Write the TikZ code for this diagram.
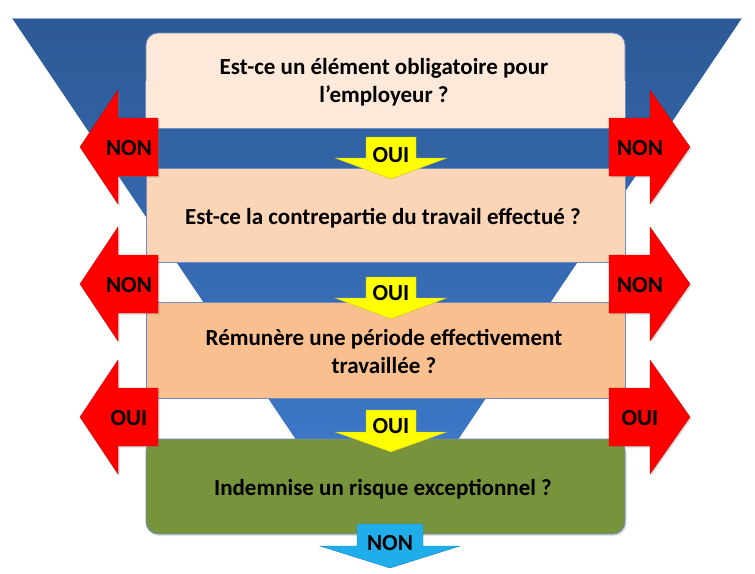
\documentclass[tikz,border=0pt]{standalone}
\usepackage{fontspec}
\setmainfont{Carlito}
\usetikzlibrary{shadows}
\definecolor{funtop}{RGB}{45,90,150}
\definecolor{funbot}{RGB}{64,126,210}
\definecolor{funedge}{RGB}{140,175,220}
\definecolor{boxA}{RGB}{253,233,217}
\definecolor{boxB}{RGB}{251,213,181}
\definecolor{boxC}{RGB}{249,191,143}
\definecolor{boxD}{RGB}{119,147,60}
\definecolor{edgecol}{RGB}{110,140,190}
\definecolor{redA}{RGB}{255,0,0}
\definecolor{yelA}{RGB}{255,255,0}
\definecolor{yelE}{RGB}{190,190,40}
\definecolor{bluA}{RGB}{32,174,234}
\definecolor{bluE}{RGB}{20,130,190}
\begin{document}
\begin{tikzpicture}[x=1pt,y=-1pt,
  lbl/.style={font=\fontsize{23}{28}\selectfont\bfseries, inner sep=0pt, align=center, text=black},
  boxshape/.style={draw=edgecol, line width=0.8pt, inner sep=0pt, minimum width=479pt},
  redarrow/.style={fill=redA, draw=red!75!black, line width=0.3pt,
     drop shadow={opacity=0.3, shadow xshift=1.5pt, shadow yshift=-1.5pt}},
  yelarrow/.style={fill=yelA, draw=yelE, line width=0.4pt},
  bluarrow/.style={fill=bluA, draw=bluE, line width=0.4pt}]
\useasboundingbox (0,0) rectangle (755,573);
% funnel
\shade[top color=funtop, bottom color=funbot] (12,18) -- (742,18) -- (377,560) -- cycle;
\draw[funedge, line width=0.6pt] (12,18) -- (742,18);
% boxes
\node[boxshape, fill=boxA, rounded corners=12pt, minimum height=95pt] (box1) at (385.5,80.5) {};
\fill[boxA] ([xshift=0.5pt]box1.west) rectangle ([xshift=-0.5pt,yshift=0.5pt]box1.south east);
\draw[draw=edgecol, line width=0.8pt] (box1.west) -- (box1.south west) -- (box1.south east) -- (box1.east);
\node[boxshape, fill=boxB, minimum height=94pt] (box2) at (385.5,215) {};
\node[boxshape, fill=boxC, minimum height=96pt] (box3) at (385.5,350) {};
\node[boxshape, fill=boxD, rounded corners=12pt, minimum height=95pt,
   drop shadow={opacity=0.25, shadow xshift=1.5pt, shadow yshift=-2pt}] (box4) at (385.5,486.5) {};
% box texts
\node[lbl] (t1) at (384,82) {Est-ce un élément obligatoire pour\\l’employeur ?};
\node[lbl, anchor=base] (t2) at (383,224) {Est-ce la contrepartie du travail effectué ?};
\node[lbl] (t3) at (384,351) {Rémunère une période effectivement\\travaillée ?};
\node[lbl, anchor=base] (t4) at (383,495) {Indemnise un risque exceptionnel ?};
% yellow arrows
\foreach \a/\b/\c in {137/158/179, 277/298/319, 410/432/452}{
  \draw[yelarrow] (366,\a) -- (416,\a) -- (416,\b) -- (447,\b) -- (391,\c) -- (335,\b) -- (366,\b) -- cycle;
}
\node[lbl, anchor=base] (y1) at (391,162) {OUI};
\node[lbl, anchor=base] (y2) at (391,300) {OUI};
\node[lbl, anchor=base] (y3) at (391,433) {OUI};
% red arrows
\foreach \yc in {147,284,417}{
  \draw[redarrow] (80,\yc) -- (118,\yc-57) -- (118,\yc-29) -- (158,\yc-29) -- (158,\yc+29) -- (118,\yc+29) -- (118,\yc+57) -- cycle;
  \draw[redarrow] (690,\yc) -- (650,\yc-57) -- (650,\yc-29) -- (609,\yc-29) -- (609,\yc+29) -- (650,\yc+29) -- (650,\yc+57) -- cycle;
}
\node[lbl, anchor=base] (l1) at (129,155) {NON};
\node[lbl, anchor=base] (r1) at (640,155) {NON};
\node[lbl, anchor=base] (l2) at (129,292) {NON};
\node[lbl, anchor=base] (r2) at (640,292) {NON};
\node[lbl, anchor=base] (l3) at (129,425) {OUI};
\node[lbl, anchor=base] (r3) at (640,425) {OUI};
% blue arrow
\draw[bluarrow] (357,524) -- (423,524) -- (423,546) -- (460,546) -- (390,568) -- (320,546) -- (357,546) -- cycle;
\node[lbl, anchor=base] (b1) at (390,550) {NON};
\end{tikzpicture}
\end{document}
